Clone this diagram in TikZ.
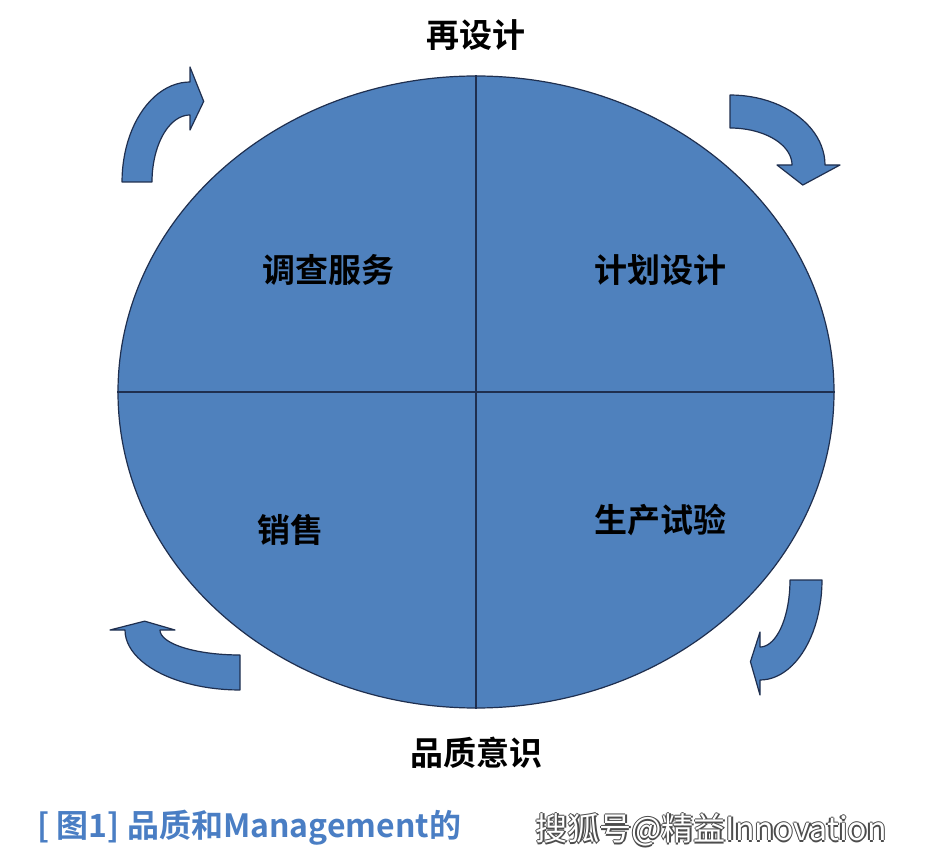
\documentclass[tikz,border=0pt]{standalone}
\usepackage{fontspec}
\usetikzlibrary{shapes.geometric}
\setmainfont{Noto Sans CJK SC}
\newfontfamily\cjkb{Noto Sans CJK SC Bold}
\newfontfamily\cjkr{Noto Sans CJK SC}
\definecolor{fillb}{HTML}{4F81BD}
\definecolor{lineb}{HTML}{1F2F4F}
\definecolor{capb}{HTML}{4A7EC4}
\newcommand\carr[9]{%
\filldraw[fill=fillb,draw=lineb,line width=1.2pt,line join=round] plot[domain=#7:#8,samples=24] ({#1+#3*cos(\x)},{#2+#5*sin(\x)}) -- ({#1+(#3+15)*cos(#8)},{#2+(#5+15)*sin(#8)}) -- ({#1+(#3+#4)/2*cos(#9)},{#2+(#5+#6)/2*sin(#9)}) -- ({#1+(#4-15)*cos(#8)},{#2+(#6-15)*sin(#8)}) -- plot[domain=#8:#7,samples=24] ({#1+#4*cos(\x)},{#2+#6*sin(\x)}) -- cycle;}
\begin{document}
\begin{tikzpicture}[x=1pt,y=-1pt,
  lab/.style={font=\cjkb\fontsize{33}{33}\selectfont,text=black},
  wmk/.style={anchor=west,font=\cjkr\fontsize{32}{32}\selectfont}]
\useasboundingbox (0,0) rectangle (948,866);
\fill[white] (0,0) rectangle (948,866);
\node[draw=lineb,fill=fillb,line width=1.2pt,ellipse,minimum width=716pt,minimum height=632pt,inner sep=0pt] (e) at (476,392) {};
\draw[lineb,line width=1.2pt] (e.north) -- (e.south);
\draw[lineb,line width=1.2pt] (e.west) -- (e.east);
\node[lab] (t) at (476,35) {再设计};
\node[lab] (b) at (476,753) {品质意识};
\node[lab] (q1) at (328,270) {调查服务};
\node[lab] (q2) at (660,270) {计划设计};
\node[lab] (q3) at (290,530) {销售};
\node[lab] (q4) at (660,520) {生产试验};
\carr{730}{165}{95}{62}{70}{37}{-90}{0}{22}
\carr{190}{182}{68}{38}{100}{67}{180}{270}{285}
\carr{760}{580}{62}{30}{100}{67}{0}{90}{102}
\carr{240}{630}{115}{80}{60}{25}{90}{180}{192}
\node[anchor=west,font=\cjkb\fontsize{32}{32}\selectfont,text=capb] (cap) at (34,828) {[ 图1] 品质和Management的};
\foreach \dx/\dy in {-1.5/0,1.5/0,0/-1.5,0/1.5}
  \node[wmk,text=black!70] at (532+\dx,830+\dy) {搜狐号@精益Innovation};
\node[wmk,text=white] (wm) at (532,830) {搜狐号@精益Innovation};
\end{tikzpicture}
\end{document}
